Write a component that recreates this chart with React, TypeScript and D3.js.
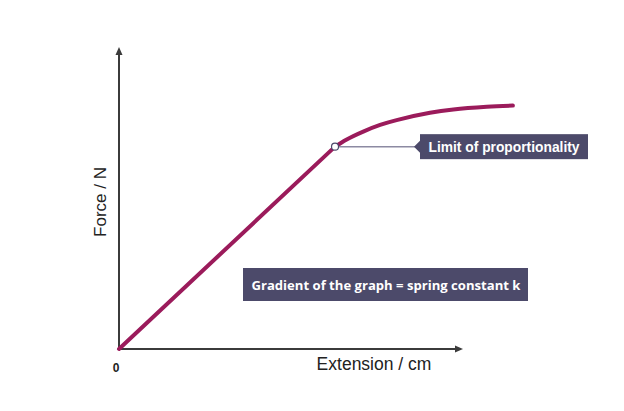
import React from "react";
import { scaleLinear, line, curveCatmullRom, curveLinear } from "d3";

// Force-extension curve for a spring (arbitrary units)
const extension = [0, 6.28, 6.62, 7.1, 7.59, 8.07, 9.04, 9.72, 10.69, 11.45];
const force = [0, 6.7, 6.94, 7.2, 7.42, 7.58, 7.82, 7.93, 8.02, 8.06];
const limitIndex = 1;

const xLabel = "Extension / cm";
const yLabel = "Force / N";
const originLabel = "0";
const limitLabel = "Limit of proportionality";
const gradientLabel = "Gradient of the graph = spring constant k";

const W = 624;
const H = 411;

const App = () => {
    const x = scaleLinear().domain([0, 10]).range([119, 463]);
    const y = scaleLinear().domain([0, 10]).range([349, 47]);

    const points = extension.map((e, i) => [e, force[i]] as [number, number]);
    // Hooke's law region is straight, beyond the limit it bends over
    const straight = line<[number, number]>()
        .x((d) => x(d[0]))
        .y((d) => y(d[1]))
        .curve(curveLinear)(points.slice(0, limitIndex + 1));
    const bend = line<[number, number]>()
        .x((d) => x(d[0]))
        .y((d) => y(d[1]))
        .curve(curveCatmullRom.alpha(0.5))(points.slice(limitIndex));

    const lx = x(extension[limitIndex]);
    const ly = y(force[limitIndex]);
    const axisColor = "#3b3b3b";
    const boxColor = "#4c4a6a";
    const curveColor = "#9b1b5b";

    // label box for the limit point
    const bx = 420, bw = 168, bh = 25;
    const by = ly - bh / 2;

    return (
        <svg width={W} height={H} style={{ display: "block", position: "absolute", left: 0, top: 0 }}>
            <rect width={W} height={H} fill="#fff" />
            {/* axes */}
            <line x1={x(0)} y1={y(0)} x2={x(0)} y2={y(10) + 6} stroke={axisColor} strokeWidth={2} />
            <path d={`M${x(0) - 3.5},${y(10) + 8} L${x(0)},${y(10)} L${x(0) + 3.5},${y(10) + 8} Z`} fill={axisColor} />
            <line x1={x(0)} y1={y(0)} x2={x(10) - 6} y2={y(0)} stroke={axisColor} strokeWidth={2} />
            <path d={`M${x(10) - 8},${y(0) - 3.5} L${x(10)},${y(0)} L${x(10) - 8},${y(0) + 3.5} Z`} fill={axisColor} />

            <text x={116} y={372} fontFamily="Liberation Sans, Arial, sans-serif" fontWeight="bold" fontSize={12} textAnchor="middle" fill="#222">
                {originLabel}
            </text>
            <text x={374} y={370} fontFamily="Liberation Sans, Arial, sans-serif" fontSize={17.5} textAnchor="middle" fill="#222">
                {xLabel}
            </text>
            <text
                transform={`translate(106,202) rotate(-90)`}
                fontFamily="Liberation Sans, Arial, sans-serif"
                fontSize={17}
                textAnchor="middle"
                fill="#222"
            >
                {yLabel}
            </text>

            {/* curve */}
            <path d={straight ?? ""} fill="none" stroke={curveColor} strokeWidth={4} strokeLinecap="round" />
            <path d={bend ?? ""} fill="none" stroke={curveColor} strokeWidth={4} strokeLinecap="round" />

            {/* limit of proportionality pointer */}
            <line x1={lx} y1={ly} x2={bx - 4} y2={ly} stroke="#8c8aa2" strokeWidth={1.5} />
            <path d={`M${bx - 6},${ly} L${bx},${ly - 6} L${bx},${ly + 6} Z`} fill={boxColor} />
            <rect x={bx} y={by} width={bw} height={bh} fill={boxColor} />
            <text x={bx + bw / 2} y={ly + 5} fontFamily="Liberation Sans, Arial, sans-serif" fontWeight="bold" fontSize={13.8} textAnchor="middle" fill="#fff">
                {limitLabel}
            </text>
            <circle cx={lx} cy={ly} r={3.5} fill="#fff" stroke="#4c4a6a" strokeWidth={1.2} />

            {/* gradient note */}
            <rect x={243} y={268} width={285} height={33} fill={boxColor} />
            <text x={386} y={289.5} fontFamily="Open Sans, Lato, sans-serif" fontWeight="bold" fontSize={13.1} textAnchor="middle" fill="#fff">
                {gradientLabel}
            </text>
        </svg>
    );
};

export default App;
